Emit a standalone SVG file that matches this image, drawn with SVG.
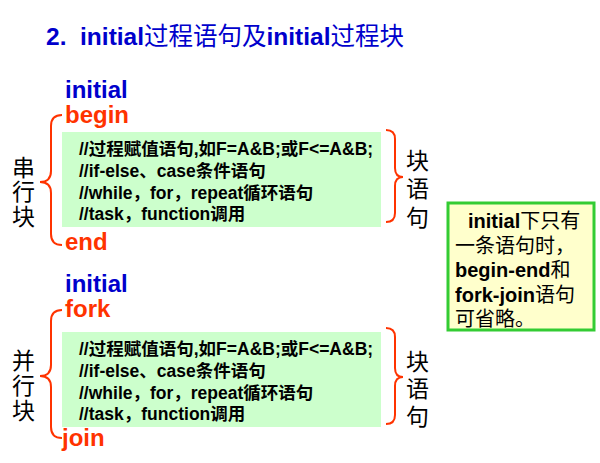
<svg xmlns="http://www.w3.org/2000/svg" width="600" height="463" viewBox="0 0 600 463">
<style>
text{font-family:"Liberation Sans","Noto Sans CJK SC",sans-serif}
.kw{font-size:24px;font-weight:bold}
.ttl{font-size:24.5px;font-weight:bold}
.blue{fill:#0000CC}
.red{fill:#FF3300}
.code{font-size:17.5px;font-weight:bold;fill:#000}
.lab{font-size:23px;fill:#000}
.cj{font-weight:normal}
.box{fill:#CCFFCC}
.brace{fill:none;stroke:#FF3300;stroke-width:2}
.note{font-size:20px;font-weight:bold;fill:#000}
</style>
<rect width="600" height="463" fill="#fff"/>
<g id="title">
<text x="46" y="45" class="ttl blue" xml:space="preserve">2.  initial<tspan class="cj">过程语句及</tspan>initial<tspan class="cj">过程块</tspan></text>
</g>
<g id="serial">
<text x="65" y="98" class="kw blue">initial</text>
<text x="65" y="123" class="kw red">begin</text>
<rect class="box" x="62" y="132" width="319" height="95"/>
<text class="code" x="79" y="155">//过程赋值语句,如F=A&amp;B;或F&lt;=A&amp;B;</text>
<text class="code" x="79" y="177">//if-else、case条件语句</text>
<text class="code" x="79" y="199">//while，for，repeat循环语句</text>
<text class="code" x="79" y="220">//task，function调用</text>
<text x="65" y="250" class="kw red">end</text>
<text class="lab" x="12" y="176">串</text>
<text class="lab" x="12" y="200">行</text>
<text class="lab" x="12" y="225">块</text>
<text class="lab" x="406" y="169">块</text>
<text class="lab" x="406" y="197">语</text>
<text class="lab" x="406" y="226">句</text>
</g>
<g id="parallel">
<text x="65" y="292" class="kw blue">initial</text>
<text x="65" y="317" class="kw red">fork</text>
<rect class="box" x="62" y="332" width="319" height="95"/>
<text class="code" x="79" y="355">//过程赋值语句,如F=A&amp;B;或F&lt;=A&amp;B;</text>
<text class="code" x="79" y="377">//if-else、case条件语句</text>
<text class="code" x="79" y="399">//while，for，repeat循环语句</text>
<text class="code" x="79" y="420">//task，function调用</text>
<text x="62" y="446" class="kw red">join</text>
<text class="lab" x="12" y="369">并</text>
<text class="lab" x="12" y="394">行</text>
<text class="lab" x="12" y="419">块</text>
<text class="lab" x="406" y="370">块</text>
<text class="lab" x="406" y="397">语</text>
<text class="lab" x="406" y="425">句</text>
</g>
<g id="note">
<rect x="448" y="203" width="146" height="127" fill="#FFFFCC" stroke="#33CC33" stroke-width="3"/>
<text class="note" x="468" y="228">initial<tspan class="cj">下只有</tspan></text>
<text class="note" x="455" y="252.5"><tspan class="cj">一条语句时，</tspan></text>
<text class="note" x="455" y="277">begin-end<tspan class="cj">和</tspan></text>
<text class="note" x="455" y="301.5">fork-join<tspan class="cj">语句</tspan></text>
<text class="note" x="455" y="326"><tspan class="cj">可省略。</tspan></text>
</g>
<g id="connectors">
<path class="brace" d="M62,115 Q51,115 51,126 L51,171 Q51,182 40,182 Q51,182 51,193 L51,234 Q51,245 62,245"/>
<path class="brace" d="M386,130 Q395,130 395,139 L395,168 Q395,177 403,177 Q395,177 395,186 L395,213 Q395,222 386,222"/>
<path class="brace" d="M62,310 Q51,310 51,321 L51,365 Q51,376 40,376 Q51,376 51,387 L51,427 Q51,438 62,438"/>
<path class="brace" d="M386,328 Q395,328 395,337 L395,368 Q395,377 403,377 Q395,377 395,386 L395,415 Q395,424 386,424"/>
</g>
</svg>
